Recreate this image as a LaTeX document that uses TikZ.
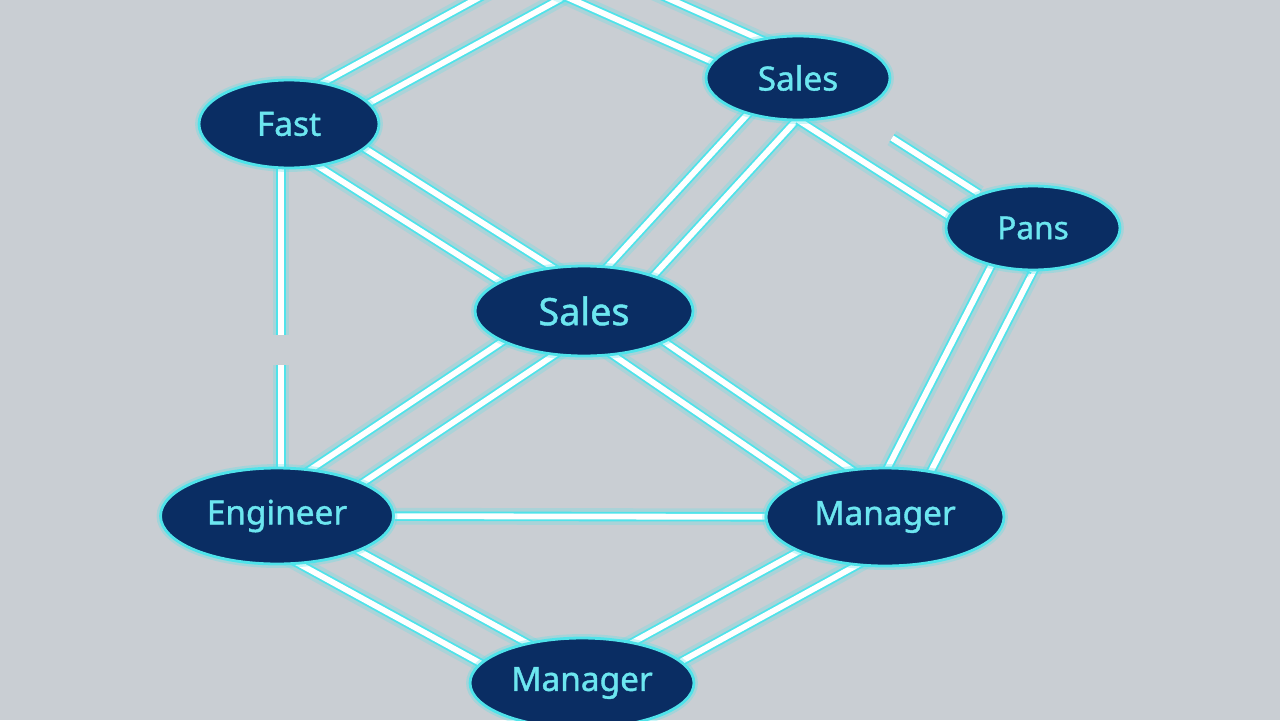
\documentclass[tikz,border=0pt]{standalone}
\usepackage{fontspec}
\setmainfont{Noto Sans}
\newfontfamily\rolefont{Noto Sans}[FakeBold=1.2]
\usetikzlibrary{shapes.geometric,calc}
\definecolor{paper}{HTML}{C9CED3}
\definecolor{navy}{HTML}{0A2D63}
\definecolor{glow}{HTML}{4FE3EA}
\definecolor{labelcyan}{HTML}{6CE6F0}
\pgfdeclarelayer{back}
\pgfdeclarelayer{wires}
\pgfsetlayers{back,wires,main}

\begin{document}
\begin{tikzpicture}[x=0.02cm, y=-0.02cm,
    role/.style={ellipse, fill=navy, draw=glow, line width=1.6pt, inner sep=0pt,
      text=labelcyan, font=\rolefont\fontsize{19}{22}\selectfont,
      preaction={draw=glow, line width=4.5pt, opacity=0.3}},
    wire/.style={draw=white, line width=3.3pt,
      preaction={draw=glow, line width=9.5pt, opacity=0.25},
      preaction={draw=glow, line width=5.4pt}}]

    % Backdrop
    \begin{pgfonlayer}{back}
        \fill[paper] (0,0) rectangle (1280,720);
    \end{pgfonlayer}
    \useasboundingbox (0,0) rectangle (1280,720);

    % Roles
    \node[role, minimum width=3.6cm, minimum height=1.76cm] (fast) at (289,124) {Fast};
    \node[role, minimum width=3.68cm, minimum height=1.68cm] (salest) at (798,78) {Sales};
    \node[role, minimum width=3.48cm, minimum height=1.68cm, font=\rolefont\fontsize{18}{21}\selectfont] (pans) at (1033,228) {Pans};
    \node[role, minimum width=4.36cm, minimum height=1.8cm, font=\rolefont\fontsize{21.5}{25}\selectfont] (salesm) at (584,311) {Sales};
    \node[role, minimum width=4.66cm, minimum height=1.92cm] (engineer) at (277,516) {Engineer};
    \node[role, minimum width=4.76cm, minimum height=1.96cm] (managerr) at (885,517) {Manager};
    \node[role, minimum width=4.48cm, minimum height=1.8cm] (managerb) at (582,683) {Manager};

    % Off-page corner and gap in the left link
    \coordinate (apex) at (564,-26);
    \coordinate (gapa) at (281,335);
    \coordinate (gapb) at (281,365);

    % Links
    \begin{pgfonlayer}{wires}
        % double links
        \foreach \a/\b/\sx/\sy in {fast/apex/0/0, apex/salest/0/0, fast/salesm/0/0,
                salest/salesm/10/0, salesm/engineer/0/0, salesm/managerr/0/0,
                pans/managerr/0/0, engineer/managerb/0/13, managerr/managerb/0/10} {
            \draw[wire] ($(\a)!0.4cm!90:(\b)+(\sx,\sy)$) -- ($(\b)!0.4cm!-90:(\a)+(\sx,\sy)$);
            \draw[wire] ($(\a)!0.4cm!-90:(\b)+(\sx,\sy)$) -- ($(\b)!0.4cm!90:(\a)+(\sx,\sy)$);
        }
        % sales to pans, one rail cut short
        \draw[wire] ($(salest)!0.4!(pans)$) -- (pans);
        \draw[wire] ($(salest)+(0,42)$) -- ($(pans)+(0,42)$);
        % single links
        \draw[wire] (fast.south -| gapa) -- (gapa);
        \draw[wire] (gapb) -- (engineer.north -| gapb);
        \draw[wire] (engineer) -- (managerr);
    \end{pgfonlayer}
\end{tikzpicture}
\end{document}
